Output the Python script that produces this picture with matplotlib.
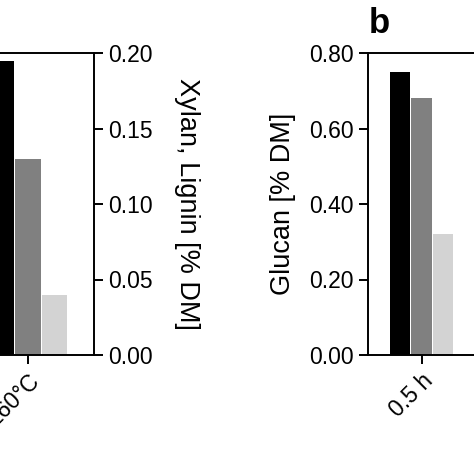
import matplotlib
matplotlib.use('Agg')
import matplotlib.pyplot as plt
import numpy as np

plt.rcParams['font.family'] = ['Liberation Sans', 'DejaVu Sans']

# Panel a (only the last group is visible): Glucan, Xylan, Lignin on the right axis scale
a_categories = ['160°C']
a_values = [[0.195], [0.13], [0.04]]
a_yticks = [0.00, 0.05, 0.10, 0.15, 0.20]

# Panel b: first group visible
b_categories = ['0.5 h']
b_values = [[0.75], [0.68], [0.32]]
b_yticks = [0.00, 0.20, 0.40, 0.60, 0.80]

colors = ['#000000', '#808080', '#d3d3d3']
offsets = [-0.2, 0.0, 0.2]
bar_w = 0.19

W = H = 474
fig = plt.figure(figsize=(4.74, 4.74), dpi=100)


def px_axes(left, top, width, height):
    return fig.add_axes([left / W, (H - top - height) / H, width / W, height / H])


def style(ax):
    for s in ax.spines.values():
        s.set_linewidth(1.4)
    ax.tick_params(axis='both', width=1.4, length=6.5, labelsize=16.5)


# Panel a
ax1 = px_axes(-302, 53, 396, 302)
x1 = np.arange(len(a_categories))
for vals, c, off in zip(a_values, colors, offsets):
    ax1.bar(x1 + off, vals, bar_w, color=c)
ax1.set_xlim(-2.5, 0.5)
ax1.set_ylim(0, 0.20)
ax1.yaxis.tick_right()
ax1.yaxis.set_label_position('right')
ax1.set_yticks(a_yticks)
ax1.set_yticklabels([f'{v:.2f}' for v in a_yticks])
ax1.set_xticks(x1)
ax1.set_xticklabels(a_categories, rotation=45, ha='right', rotation_mode='anchor')
ax1.set_ylabel('Xylan, Lignin [% DM]', fontsize=19.5, rotation=270, labelpad=34)
ax1.spines['left'].set_visible(False)
style(ax1)

# Panel b
ax2 = px_axes(368, 53, 321, 302)
x2 = np.arange(len(b_categories))
for vals, c, off in zip(b_values, colors, offsets):
    ax2.bar(x2 + off, vals, bar_w, color=c)
ax2.set_xlim(-0.5, 2.5)
ax2.set_ylim(0, 0.80)
ax2.set_yticks(b_yticks)
ax2.set_yticklabels([f'{v:.2f}' for v in b_yticks])
ax2.set_xticks(x2)
ax2.set_xticklabels(b_categories, rotation=45, ha='right', rotation_mode='anchor')
ax2.set_ylabel('Glucan [% DM]', fontsize=19.5, labelpad=10)
style(ax2)

fig.text(369 / W, (H - 33) / H, 'b', fontsize=25, fontweight='bold', va='baseline')

fig.savefig('out.png', dpi=100)
